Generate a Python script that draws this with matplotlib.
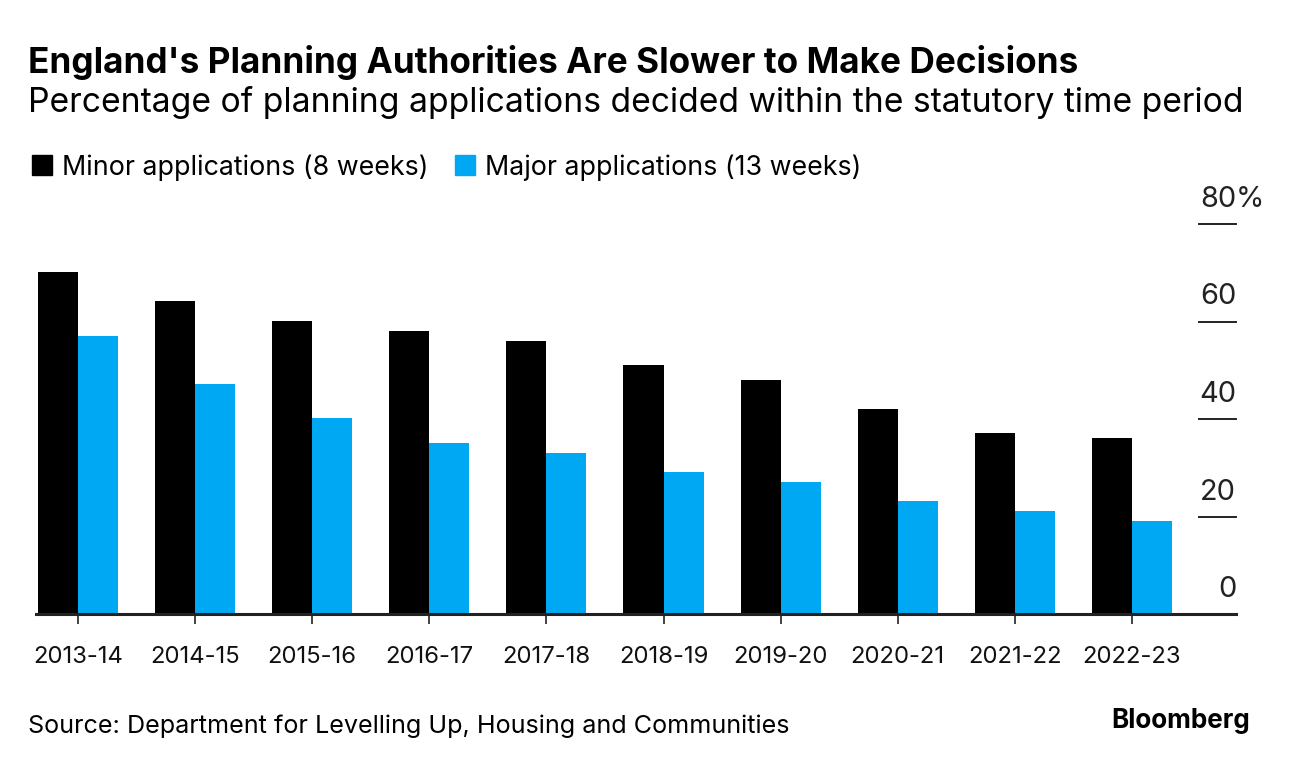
import matplotlib
matplotlib.use("Agg")
import matplotlib.pyplot as plt
import matplotlib.transforms as mtransforms
import numpy as np

categories = ["2013-14", "2014-15", "2015-16", "2016-17", "2017-18",
              "2018-19", "2019-20", "2020-21", "2021-22", "2022-23"]
minor = [70.2, 64.2, 60.1, 58.1, 56.0, 51.1, 48.0, 42.1, 37.1, 36.1]
major = [57.0, 47.2, 40.2, 35.1, 33.0, 29.1, 27.1, 23.2, 21.1, 19.1]
yticks = [0, 20, 40, 60, 80]
series_names = ["Minor applications (8 weeks)", "Major applications (13 weeks)"]

BLACK = "#000000"
BLUE = "#00a8f3"
FONT = ['Inter', 'Liberation Sans', 'DejaVu Sans']
plt.rcParams['font.family'] = FONT

W, H = 1289, 766
fig = plt.figure(figsize=(W/100, H/100), dpi=100)
renderer = fig.canvas.get_renderer()

def fy(py):
    return 1 - py / H

def fit(t, target):
    for _ in range(3):
        w = t.get_window_extent(renderer).width
        t.set_fontsize(t.get_fontsize() * target / w)
    return t.get_fontsize()

ax = fig.add_axes([36/W, fy(614), (1236-36)/W, (614-224)/H])

x = np.arange(len(categories))
bw = 0.342
ax.bar(x - bw/2, minor, width=bw, color=BLACK, linewidth=0)
ax.bar(x + bw/2, major, width=bw, color=BLUE, linewidth=0)

ax.set_xlim(-0.359, 9.889)
ax.set_ylim(0, 80)
for s in ax.spines.values():
    s.set_visible(False)
ax.set_yticks([])
ax.set_xticks(x)
ax.set_xticklabels([])
ax.tick_params(axis='x', length=7, width=1.2, color='#222222')
ax.axhline(0, color='#222222', lw=2.2, clip_on=False, zorder=3)

# x labels at baseline
trans = mtransforms.blended_transform_factory(ax.transData, fig.transFigure)
t0 = ax.text(0, fy(663), categories[0], transform=trans, ha='center', va='baseline',
             fontsize=16, color='#111111')
xfs = fit(t0, 90)
for xi, c in zip(x[1:], categories[1:]):
    ax.text(xi, fy(663), c, transform=trans, ha='center', va='baseline',
            fontsize=xfs, color='#111111')

# right-side y ticks with labels above
px_per_unit = (614 - 224) / 80
tz = ax.text(9.889, 0, "20", ha='right', va='baseline', fontsize=16)
yfs = fit(tz, 36)
tz.remove()
for v in yticks:
    if v > 0:
        ax.plot([9.573, 9.889], [v, v], color='#222222', lw=1.4, clip_on=False)
    ytxt = v + 17 / px_per_unit
    ax.text(9.889, ytxt, str(v), ha='right', va='baseline', fontsize=yfs, color='#222222')
    if v == yticks[-1]:
        ax.text(9.889, ytxt, "%", ha='left', va='baseline', fontsize=yfs, color='#222222')

# titles
tt = fig.text(28/W, fy(73), "England's Planning Authorities Are Slower to Make Decisions",
              fontsize=22, fontweight='bold', va='baseline', ha='left', color=BLACK)
fit(tt, 1050)
st = fig.text(28/W, fy(112), "Percentage of planning applications decided within the statutory time period",
              fontsize=20, va='baseline', ha='left', color=BLACK)
fit(st, 1215)

# legend
fig.patches.append(plt.Rectangle((32/W, fy(175)), 20/W, 20/H, transform=fig.transFigure, color=BLACK))
l1 = fig.text(62/W, fy(175), series_names[0], fontsize=17, va='baseline', ha='left', color=BLACK)
lfs = fit(l1, 366)
fig.patches.append(plt.Rectangle((455/W, fy(175)), 20/W, 20/H, transform=fig.transFigure, color=BLUE))
fig.text(485/W, fy(175), series_names[1], fontsize=lfs, va='baseline', ha='left', color=BLACK)

src = fig.text(28/W, fy(733), "Source: Department for Levelling Up, Housing and Communities",
               fontsize=16, va='baseline', ha='left', color=BLACK)
fit(src, 762)
bl = fig.text(1250/W, fy(728), "Bloomberg", fontsize=17, fontweight='bold', va='baseline', ha='right', color=BLACK)
fit(bl, 139)

fig.savefig("out.png", dpi=100, facecolor='white')
